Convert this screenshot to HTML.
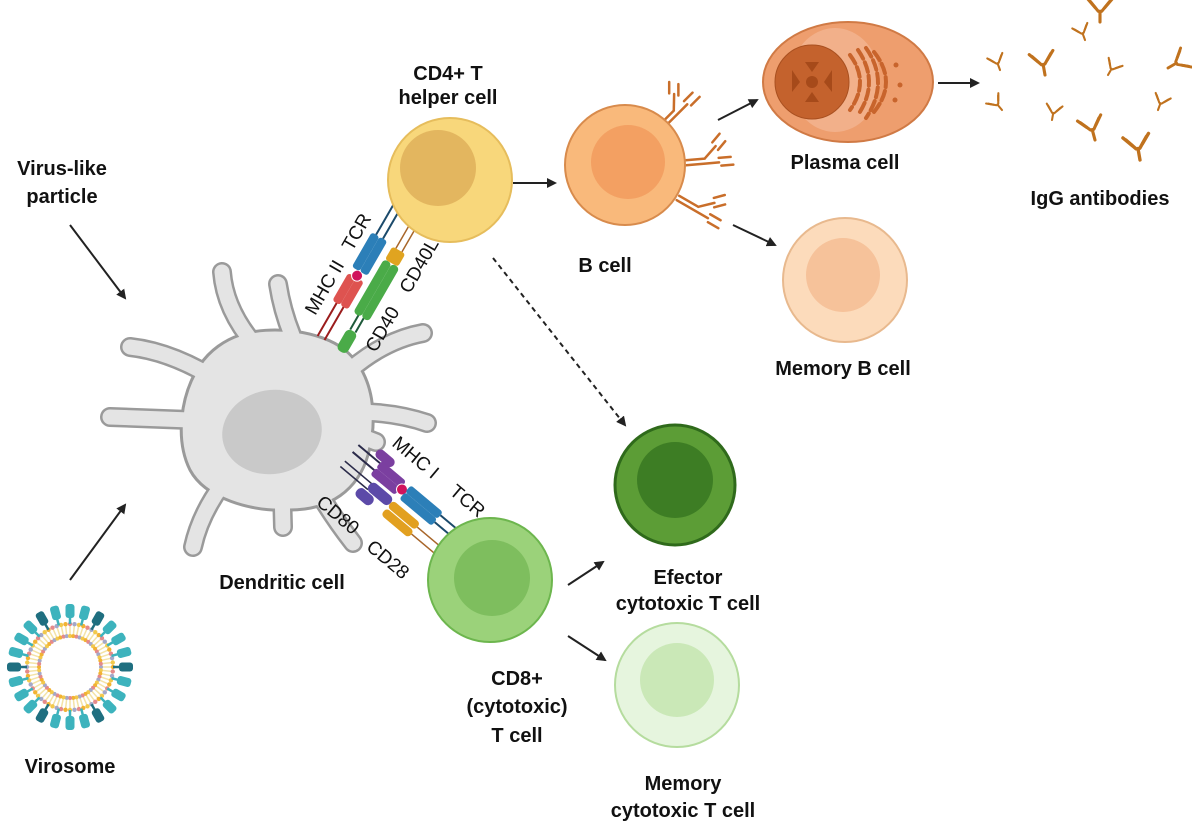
<!DOCTYPE html>
<html><head><meta charset="utf-8"><style>
html,body{margin:0;padding:0;background:#fff;}
svg{display:block;}
text{font-family:"Liberation Sans",sans-serif;}
.lb{font-weight:bold;font-size:20px;fill:#111;text-anchor:middle;}
.rl{font-size:19px;fill:#111;}
</style></head><body>
<svg id="s" width="1192" height="825" viewBox="0 0 1192 825" xmlns="http://www.w3.org/2000/svg">
<defs>
<marker id="ah" markerWidth="10" markerHeight="10" refX="8" refY="5" orient="auto" markerUnits="userSpaceOnUse"><path d="M0,0 L10,5 L0,10 z" fill="#222"/></marker>
<g id="ab"><path d="M0,0 L0,-9 M-1.5,-9 L-8,-17 M1.5,-9 L8,-17" stroke="#c0721e" stroke-width="2.6" fill="none" stroke-linecap="round"/><path d="M-4,-12 L-10,-19 M4,-12 L10,-19" stroke="#c0721e" stroke-width="2.6" stroke-linecap="round"/></g>
<g id="bab"><path d="M0,-2.5 L22,-2.5 M0,2.5 L22,2.5 M22,-2.5 L34,-14 M22,2.5 L36,2.5 M36,-10 L44,-18 M38,6 L50,6 M31,-18 L39,-26 M36,-2 L48,-2" stroke="#c96e2a" stroke-width="2.5" fill="none" stroke-linecap="round"/></g>
</defs>

<!-- dendritic cell outline layer -->
<g stroke="#9a9a9a" stroke-width="20" stroke-linecap="round" fill="none">
<path d="M222,272 Q225,310 255,345"/><path d="M278,284 Q282,310 292,335"/><path d="M130,347 Q175,352 225,385"/><path d="M110,417 L190,420"/><path d="M193,547 Q200,515 222,485"/><path d="M283,527 L282,490"/><path d="M353,543 Q335,520 320,495"/><path d="M423,333 Q385,340 350,370"/><path d="M427,423 Q395,412 355,412"/><path d="M376,442 L345,430"/>
</g>
<path d="M240,335 C270,325 320,330 345,350 C375,375 378,420 368,455 C358,490 330,510 290,510 C250,512 205,498 190,470 C175,440 180,395 200,365 C210,350 225,340 240,335 Z" fill="#e4e4e4" stroke="#9a9a9a" stroke-width="3"/>
<g stroke="#e4e4e4" stroke-width="15" stroke-linecap="round" fill="none">
<path d="M222,272 Q225,310 255,345"/><path d="M278,284 Q282,310 292,335"/><path d="M130,347 Q175,352 225,385"/><path d="M110,417 L190,420"/><path d="M193,547 Q200,515 222,485"/><path d="M283,527 L282,490"/><path d="M353,543 Q335,520 320,495"/><path d="M423,333 Q385,340 350,370"/><path d="M427,423 Q395,412 355,412"/><path d="M376,442 L345,430"/>
</g>
<path d="M241,338 C270,328 318,333 343,352 C372,377 375,420 365,454 C355,487 328,507 290,507 C251,509 207,495 193,469 C178,440 183,396 203,367 C213,352 227,343 241,338 Z" fill="#e4e4e4"/>
<ellipse cx="272" cy="432" rx="50" ry="42" transform="rotate(-10 272 432)" fill="#c9c9c9"/>

<!-- upper receptors -->
<g transform="translate(328,342) rotate(-60)">
<path d="M0,-12 L42,-12 M0,-4 L42,-4" stroke="#9b1c1c" stroke-width="2"/>
<rect x="38" y="-17" width="32" height="9" rx="3" fill="#de5350"/><rect x="38" y="-8" width="32" height="9" rx="3" fill="#de5350"/>
<circle cx="72" cy="-8" r="5.5" fill="#d0135c" stroke="#fff" stroke-width="1"/>
<rect x="77" y="-17" width="40" height="9" rx="3" fill="#2c7fb8"/><rect x="77" y="-8" width="40" height="9" rx="3" fill="#2c7fb8"/>
<path d="M117,-12 L155,-12 M117,-4 L155,-4" stroke="#1b4a6b" stroke-width="2"/>
<rect x="-2" y="10" width="24" height="12" rx="5" fill="#4aab48"/>
<path d="M22,13 L40,13 M22,19 L40,19" stroke="#1e5a3a" stroke-width="2"/>
<rect x="38" y="7" width="62" height="9" rx="4" fill="#4aab48"/><rect x="38" y="16" width="62" height="9" rx="4" fill="#4aab48"/>
<rect x="100" y="8" width="15" height="15" rx="3" fill="#e0a420"/>
<path d="M115,12 L155,12 M115,19 L155,19" stroke="#a8662a" stroke-width="1.5"/>
<text class="rl" x="16" y="-24">MHC II</text><text class="rl" x="90" y="-24">TCR</text>
<text class="rl" x="14" y="47">CD40</text><text class="rl" x="82" y="47">CD40L</text>
</g>

<!-- lower receptors -->
<g transform="translate(350,455) rotate(40)">
<path d="M0,-13 L32,-13 M0,-4 L32,-4" stroke="#2b2b4a" stroke-width="2"/>
<rect x="18" y="-25" width="22" height="10" rx="5" fill="#7b3fa0"/>
<rect x="28" y="-16" width="32" height="9" rx="3" fill="#7b3fa0"/><rect x="28" y="-7" width="32" height="9" rx="3" fill="#7b3fa0"/>
<circle cx="62" cy="-7" r="5.5" fill="#d0135c" stroke="#fff" stroke-width="1"/>
<rect x="66" y="-16" width="42" height="9" rx="3" fill="#2c7fb8"/><rect x="66" y="-7" width="42" height="9" rx="3" fill="#2c7fb8"/>
<path d="M108,-12 L145,-12 M108,-3 L145,-3" stroke="#1b4a6b" stroke-width="2"/>
<path d="M0,8 L36,8 M0,15 L36,15" stroke="#2b2b4a" stroke-width="1.5"/>
<rect x="34" y="5" width="28" height="11" rx="5" fill="#5c4aa8"/><rect x="28" y="17" width="20" height="11" rx="5" fill="#5c4aa8"/>
<rect x="62" y="7" width="36" height="9" rx="4" fill="#e2a020"/><rect x="62" y="17" width="36" height="9" rx="4" fill="#e2a020"/>
<path d="M98,12 L145,12 M98,21 L145,21" stroke="#a8662a" stroke-width="1.5"/>
<text class="rl" x="25" y="-34">MHC I</text><text class="rl" x="100" y="-34">TCR</text>
<text class="rl" x="5" y="60">CD80</text><text class="rl" x="72" y="62">CD28</text>
</g>

<!-- cells -->
<circle cx="450" cy="180" r="62" fill="#f8d77b" stroke="#e6bd5c" stroke-width="2"/>
<circle cx="438" cy="168" r="38" fill="#e3b65f"/>
<g>
<use href="#bab" transform="translate(660,128) rotate(-45)"/>
<use href="#bab" transform="translate(683,163) rotate(-5)"/>
<use href="#bab" transform="translate(678,198) rotate(30)"/>
</g>
<circle cx="625" cy="165" r="60" fill="#f9b97b" stroke="#d88b4c" stroke-width="2"/>
<circle cx="628" cy="162" r="37" fill="#f3a062"/>

<ellipse cx="848" cy="82" rx="85" ry="60" fill="#ee9e6e" stroke="#d07a45" stroke-width="2"/>
<ellipse cx="835" cy="80" rx="45" ry="52" fill="#f2b08a"/>
<g stroke="#c8642c" stroke-width="4" fill="none" stroke-linecap="round" stroke-dasharray="10 4">
<path d="M850,55 Q870,82 850,110"/><path d="M858,50 Q880,82 858,115"/><path d="M866,48 Q890,82 866,118"/><path d="M874,52 Q898,82 874,112"/>
</g>
<circle cx="896" cy="65" r="2.5" fill="#c8642c"/><circle cx="900" cy="85" r="2.5" fill="#c8642c"/><circle cx="895" cy="100" r="2.5" fill="#c8642c"/>
<circle cx="812" cy="82" r="37" fill="#c4622d" stroke="#a95020" stroke-width="1"/>
<g fill="#a64a1a"><circle cx="812" cy="82" r="6"/><path d="M805,62 L819,62 L812,72 Z"/><path d="M805,102 L819,102 L812,92 Z"/><path d="M792,70 L800,82 L792,92 Z"/><path d="M832,70 L824,82 L832,92 Z"/></g>

<circle cx="845" cy="280" r="62" fill="#fcdbbb" stroke="#e8b98e" stroke-width="2"/>
<circle cx="843" cy="275" r="37" fill="#f6c29a"/>

<circle cx="675" cy="485" r="60" fill="#5c9d36" stroke="#2f6a1b" stroke-width="3"/>
<circle cx="675" cy="480" r="38" fill="#3d7d24"/>
<circle cx="490" cy="580" r="62" fill="#9bd27a" stroke="#6db64e" stroke-width="2"/>
<circle cx="492" cy="578" r="38" fill="#7ebe5e"/>
<circle cx="677" cy="685" r="62" fill="#e6f5de" stroke="#b5dc9e" stroke-width="2"/>
<circle cx="677" cy="680" r="37" fill="#cae8b7"/>

<!-- IgG -->
<g>
<use href="#ab" transform="translate(1100,22) scale(1.2)"/>
<use href="#ab" transform="translate(1085,40) rotate(-20) scale(0.8)"/>
<use href="#ab" transform="translate(1000,70) rotate(-20) scale(0.8)"/>
<use href="#ab" transform="translate(1045,75) rotate(-10) scale(1.2)"/>
<use href="#ab" transform="translate(1108,75) rotate(30) scale(0.8)"/>
<use href="#ab" transform="translate(1168,68) rotate(60) scale(1.1)"/>
<use href="#ab" transform="translate(1002,110) rotate(-40) scale(0.8)"/>
<use href="#ab" transform="translate(1052,120) rotate(10) scale(0.8)"/>
<use href="#ab" transform="translate(1095,140) rotate(-15) scale(1.2)"/>
<use href="#ab" transform="translate(1158,110) rotate(20) scale(0.8)"/>
<use href="#ab" transform="translate(1140,160) rotate(-10) scale(1.3)"/>
</g>

<!-- virosome -->
<g id="vir"></g>

<!-- arrows -->
<g stroke="#222" stroke-width="2" fill="none" marker-end="url(#ah)">
<path d="M70,225 L125,298"/><path d="M70,580 L125,505"/><path d="M513,183 L555,183"/>
<path d="M718,120 L757,100"/><path d="M733,225 L775,245"/><path d="M938,83 L978,83"/>
<path d="M568,585 L603,562"/><path d="M568,636 L605,660"/>
<path d="M493,258 L625,425" stroke-dasharray="5 4"/>
</g>

<!-- labels -->
<text class="lb" x="448" y="80">CD4+ T</text><text class="lb" x="448" y="104">helper cell</text>
<text class="lb" x="62" y="175">Virus-like</text><text class="lb" x="62" y="203">particle</text>
<text class="lb" x="605" y="272">B cell</text>
<text class="lb" x="845" y="169">Plasma cell</text>
<text class="lb" x="1100" y="205">IgG antibodies</text>
<text class="lb" x="843" y="375">Memory B cell</text>
<text class="lb" x="282" y="589">Dendritic cell</text>
<text class="lb" x="688" y="584">Efector</text><text class="lb" x="688" y="610">cytotoxic T cell</text>
<text class="lb" x="517" y="685">CD8+</text><text class="lb" x="517" y="713">(cytotoxic)</text><text class="lb" x="517" y="742">T cell</text>
<text class="lb" x="70" y="773">Virosome</text>
<text class="lb" x="683" y="790">Memory</text><text class="lb" x="683" y="817">cytotoxic T cell</text>
</svg>
<script>
(function(){
var g=document.getElementById('vir'),cx=70,cy=667,s='';
var cols=['#f2b233','#e58a8a','#a5a8c8','#f2c94c'];
for(var i=0;i<60;i++){var a=i/60*2*Math.PI,c=Math.cos(a),n=Math.sin(a);
s+='<line x1="'+(cx+c*31)+'" y1="'+(cy+n*31)+'" x2="'+(cx+c*43)+'" y2="'+(cy+n*43)+'" stroke="#f4e3a6" stroke-width="1.5"/>';
s+='<circle cx="'+(cx+c*43)+'" cy="'+(cy+n*43)+'" r="2.2" fill="'+cols[i%4]+'"/>';
s+='<circle cx="'+(cx+c*31)+'" cy="'+(cy+n*31)+'" r="2" fill="'+cols[(i+2)%4]+'"/>';}
for(var j=0;j<24;j++){var b=j/24*2*Math.PI,c2=Math.cos(b),n2=Math.sin(b),dk=(j%4==0);
var col=dk?'#1f6f80':'#3db3bd';
s+='<line x1="'+(cx+c2*43)+'" y1="'+(cy+n2*43)+'" x2="'+(cx+c2*50)+'" y2="'+(cy+n2*50)+'" stroke="'+col+'" stroke-width="2.5"/>';
s+='<g transform="translate('+(cx+c2*56)+','+(cy+n2*56)+') rotate('+(b*180/Math.PI)+')"><rect x="-7" y="-4.5" width="14" height="9" rx="3" fill="'+col+'"/></g>';}
g.innerHTML=s;})();
</script>
</body></html>
